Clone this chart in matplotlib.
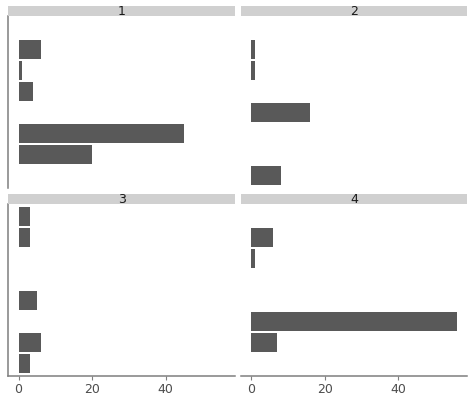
import matplotlib
matplotlib.use("Agg")
import matplotlib.pyplot as plt
import numpy as np

# slots on the discrete y axis (1 = bottom)
slots = np.arange(1, 9)
# bar values per facet, 0 = no bar in that slot
panel_1 = [0, 20, 45, 0, 4, 1, 6, 0]
panel_2 = [8, 0, 0, 16, 0, 1, 1, 0]
panel_3 = [3, 6, 0, 5, 0, 0, 3, 3]
panel_4 = [0, 7, 56, 0, 0, 1, 6, 0]
panel_labels = ["1", "2", "3", "4"]
x_ticks = [0, 20, 40]

panels = [panel_1, panel_2, panel_3, panel_4]
xmax = max(max(p) for p in panels)
xlim = (-0.05 * xmax, 1.05 * xmax)

W, H = 474, 399
fig = plt.figure(figsize=(W / 100, H / 100), dpi=100)

# pixel boxes: (x0, x1) per column, (top, bottom) per row
cols = [(8.3, 235), (241, 467)]
rows = [(16, 188), (204, 376)]
strip_h = 10.5

bar_col = "#595959"
axis_col = "#7f7f7f"

for i, vals in enumerate(panels):
    r, c = divmod(i, 2)
    x0, x1 = cols[c]
    top, bot = rows[r]
    ax = fig.add_axes([x0 / W, (H - bot) / H, (x1 - x0) / W, (bot - top) / H])
    sel = [k for k, v in enumerate(vals) if v > 0]
    ax.barh(slots[sel], [vals[k] for k in sel], height=0.9, color=bar_col, linewidth=0)
    ax.set_xlim(*xlim)
    ax.set_ylim(0.4, 8.6)
    ax.set_yticks([])
    for s in ["top", "right"]:
        ax.spines[s].set_visible(False)
    ax.spines["left"].set_visible(c == 0)
    ax.spines["left"].set_color(axis_col)
    ax.spines["left"].set_linewidth(1.1)
    ax.spines["bottom"].set_visible(r == 1)
    ax.spines["bottom"].set_color(axis_col)
    ax.spines["bottom"].set_linewidth(1.1)
    if r == 1:
        ax.set_xticks(x_ticks)
        ax.tick_params(axis="x", length=3, width=0.8, color=axis_col,
                       labelsize=9, labelcolor="#4d4d4d", pad=2)
    else:
        ax.set_xticks([])
    ax.patch.set_alpha(0)

    # strip
    sax = fig.add_axes([x0 / W, (H - top) / H, (x1 - x0) / W, strip_h / H])
    sax.set_facecolor("#d0d0d0")
    for s in sax.spines.values():
        s.set_visible(False)
    sax.set_xticks([])
    sax.set_yticks([])
    sax.text(0.5, 0.45, panel_labels[i], ha="center", va="center",
             fontsize=9, color="#1a1a1a", transform=sax.transAxes)

fig.savefig("out.png", dpi=100)
